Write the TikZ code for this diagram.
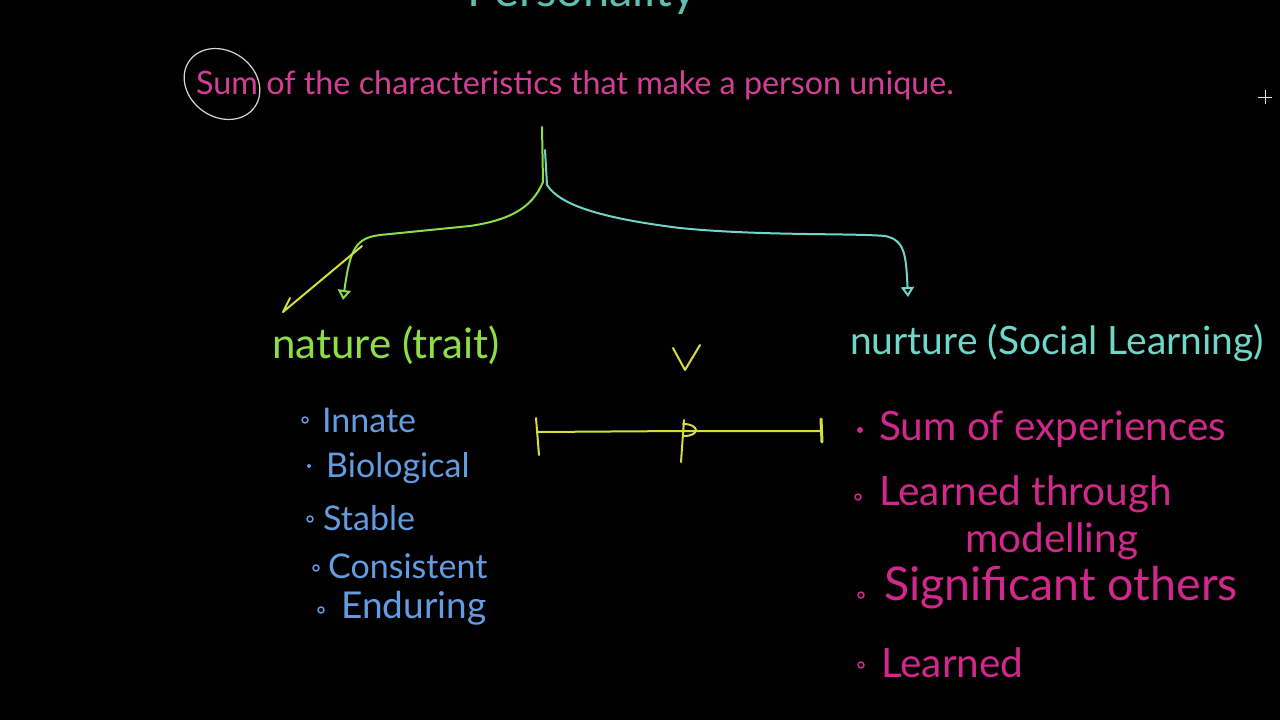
\documentclass[tikz,border=0pt]{standalone}
\usepackage{fontspec}
\setmainfont{Lato}
\usetikzlibrary{arrows.meta}
\definecolor{titleteal}{RGB}{95,190,180}
\definecolor{headpink}{RGB}{212,62,150}
\definecolor{ringgrey}{RGB}{215,215,215}
\definecolor{natgreen}{RGB}{140,222,72}
\definecolor{nurteal}{RGB}{112,214,200}
\definecolor{tickyellow}{RGB}{214,222,62}
\definecolor{listblue}{RGB}{100,156,226}
\definecolor{listpink}{RGB}{208,40,140}

\tikzset{
  pen/.style={line width=2pt, line cap=round, line join=round},
  word/.style={inner sep=0pt, anchor=base west},
  head/.style={-{Triangle[open,length=10pt,width=13pt]}},
}

\begin{document}
\begin{tikzpicture}[x=1pt,y=-1pt]
  \fill[black] (0,0) rectangle (1280,720);
  \useasboundingbox (0,0) rectangle (1280,720);

  % Heading
  \node[word, anchor=base, text=titleteal, font=\fontsize{47}{50}\selectfont] (title) at (582,6) {Personality};
  \node[word, text=headpink, font=\fontsize{32.3}{36}\selectfont] (sum) at (196,94) {Sum of the characteristics that make a person unique.};
  \draw[ringgrey, line width=1.2pt, rotate around={-35:(222,84)}] (222,84) ellipse [x radius=40pt, y radius=33pt];

  % Split
  \coordinate (brtop) at (542,127);
  \coordinate (tetop) at (545,150);
  \coordinate (natarr) at (343,300);
  \coordinate (nurarr) at (908,297);
  \draw[pen, natgreen, head] (brtop) -- (543,182) .. controls (532,208) and (510,220) .. (470,226) -- (380,235) .. controls (355,238) and (350,250) .. (natarr);
  \draw[pen, nurteal, head] (tetop) -- (547,185) .. controls (560,205) and (600,218) .. (680,228) .. controls (760,236) and (850,233) .. (885,236) .. controls (905,240) and (906,255) .. (nurarr);
  \draw[pen, tickyellow] (290,298) -- (283,312) -- (362,246);

  % Nature
  \node[word, text=natgreen, font=\fontsize{42}{46}\selectfont] (nature) at (272,358) {nature (trait)};
  \begin{scope}[listblue, font=\fontsize{34}{38}\selectfont]
  \node[word, text=listblue] (innate) at (322,432) {Innate};
  \node[word, text=listblue] (bio) at (326,477) {Biological};
  \node[word, text=listblue] (stable) at (323,530) {Stable};
  \node[word, text=listblue] (consist) at (328,578) {Consistent};
  \node[word, text=listblue, font=\fontsize{37}{40}\selectfont] (endur) at (341,618) {Enduring};
  \draw[pen, line width=1.5pt] (305,420) circle[radius=3pt];
  \fill (309,466) circle[radius=2pt];
  \draw[pen, line width=1.5pt] (310,519) circle[radius=3pt];
  \draw[pen, line width=1.5pt] (316,568) circle[radius=3pt];
  \draw[pen, line width=1.5pt] (321,610) circle[radius=3pt];
  \end{scope}

  % Scale
  \coordinate (lend) at (538,432);
  \coordinate (rend) at (822,431);
  \coordinate (mid) at (683,431);
  \draw[pen, tickyellow] (lend) -- (mid) -- (rend);
  \draw[pen, tickyellow] (536,418) -- (539,455);
  \draw[pen, tickyellow, line width=3pt] (821,419) -- (822,442);
  \draw[pen, tickyellow] (684,420) -- (681,462);
  \draw[pen, tickyellow] (683,424) .. controls (700,424) and (700,436) .. (684,436);
  \draw[pen, tickyellow] (673,348) -- (685,370) -- (700,345);

  % Nurture
  \node[word, text=nurteal, font=\fontsize{39}{43}\selectfont] (nurture) at (850,354) {nurture (Social Learning)};
  \begin{scope}[listpink, font=\fontsize{40.5}{44}\selectfont]
  \node[word, text=listpink] (exper) at (879,440) {Sum of experiences};
  \node[word, text=listpink] (learnt) at (879,505) {Learned through};
  \node[word, text=listpink] (model) at (965,552) {modelling};
  \node[word, text=listpink, font=\fontsize{46.5}{50}\selectfont] (signif) at (884,600) {Significant others};
  \node[word, text=listpink] (learned) at (881,677) {Learned};
  \fill (860,430) circle[radius=3pt];
  \draw[pen, line width=1.5pt] (858,497) circle[radius=3pt];
  \draw[pen, line width=1.5pt] (861,595) circle[radius=3pt];
  \draw[pen, line width=1.5pt] (861,665) circle[radius=3pt];
  \end{scope}

  % cursor
  \draw[ringgrey!70, line width=0.8pt] (1258,97) -- (1272,97) (1265,90) -- (1265,104);
\end{tikzpicture}
\end{document}
